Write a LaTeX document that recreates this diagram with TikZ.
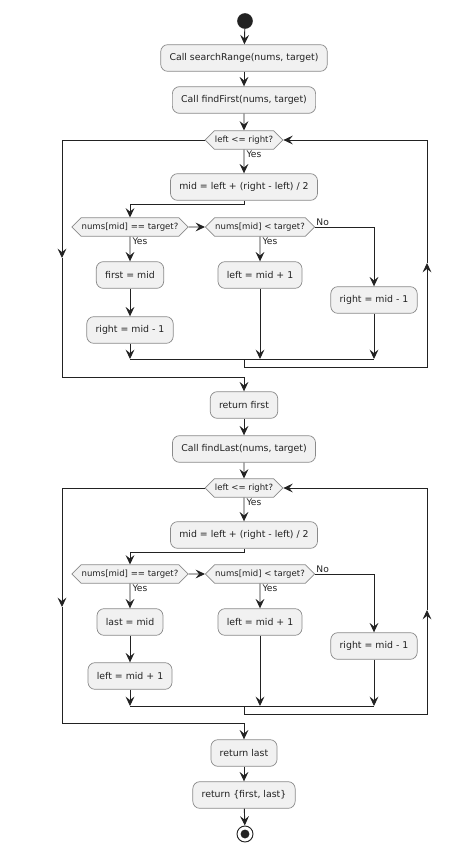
\documentclass[tikz,border=0pt]{standalone}
\usepackage{fontspec}
\setmainfont{DejaVu Sans}
\usepackage{tikz}
\usetikzlibrary{shapes,shapes.symbols,arrows.meta}
\definecolor{boxfill}{HTML}{F1F1F1}
\definecolor{boxline}{HTML}{8A8A8A}
\definecolor{ink}{HTML}{222222}
\tikzstyle{act}=[draw=boxline, fill=boxfill, rounded corners=6pt, line width=0.6pt, minimum height=0.8cm, inner xsep=7.5pt, text=ink, font=\fontsize{8}{9}\selectfont]
\tikzstyle{cond}=[signal, signal to=east and west, draw=boxline, fill=boxfill, line width=0.6pt, minimum height=0.55cm, inner xsep=0.5pt, inner ysep=0pt, text=ink, font=\fontsize{7.3}{8}\selectfont]
\tikzstyle{lbl}=[inner sep=1pt, text=ink, font=\fontsize{7.8}{8}\selectfont]
\tikzstyle{flow}=[draw=ink, line width=0.8pt, -{Stealth[length=8pt,width=7.5pt,inset=3pt]}]
\tikzstyle{wire}=[draw=ink, line width=0.8pt]

\begin{document}
\begin{tikzpicture}[x=0.03cm, y=-0.03cm]
\useasboundingbox (0,0) rectangle (474,867);
\node[circle, fill=ink, minimum size=0.47cm, inner sep=0pt] (start) at (245,21) {};
\node[act] (a1) at (244,58) {Call searchRange(nums, target)};
\node[act] (a2) at (244,100) {Call findFirst(nums, target)};
\node[cond] (d1) at (244,140) {left <= right?};
\node[act] (m1) at (244,187) {mid = left + (right - left) / 2};
\node[cond] (e1) at (130,227) {nums[mid] == target?};
\node[cond] (l1) at (260,227) {nums[mid] < target?};
\node[act] (f1) at (130,275) {first = mid};
\node[act] (g1) at (260,275) {left = mid + 1};
\node[act] (h1) at (374,300) {right = mid - 1};
\node[act] (k1) at (130,330) {right = mid - 1};
\node[lbl, anchor=north west] (yes1) at ([xshift=1pt]d1.south) {Yes};
\node[lbl, anchor=north west] (yes2) at ([xshift=1pt]e1.south) {Yes};
\node[lbl, anchor=north west] (yes3) at ([xshift=1pt]l1.south) {Yes};
\node[lbl, anchor=south west] (no1) at (l1.east) {No};
\node[act] (r1) at (244,405) {return first};
\node[act] (a3) at (244,449) {Call findLast(nums, target)};
\node[cond] (d2) at (244,488) {left <= right?};
\node[act] (m2) at (244,535) {mid = left + (right - left) / 2};
\node[cond] (e2) at (130,574) {nums[mid] == target?};
\node[cond] (l2) at (260,574) {nums[mid] < target?};
\node[act] (f2) at (130,622) {last = mid};
\node[act] (g2) at (260,622) {left = mid + 1};
\node[act] (h2) at (374,646) {right = mid - 1};
\node[act] (k2) at (130,676) {left = mid + 1};
\node[lbl, anchor=north west] (yes4) at ([xshift=1pt]d2.south) {Yes};
\node[lbl, anchor=north west] (yes5) at ([xshift=1pt]e2.south) {Yes};
\node[lbl, anchor=north west] (yes6) at ([xshift=1pt]l2.south) {Yes};
\node[lbl, anchor=south west] (no2) at (l2.east) {No};
\node[act] (r2) at (244,753) {return last};
\node[act] (r3) at (244,795) {return \{first, last\}};
\node[circle, draw=ink, fill=white, line width=0.8pt, minimum size=0.48cm, inner sep=0pt,
  path picture={\fill[ink] (path picture bounding box.center) circle (3.8pt);}] (stop) at (245,834) {};

\coordinate (s1) at (244,204);
\coordinate (j1a) at (130,359);
\coordinate (j1b) at (260,359);
\coordinate (j1c) at (374,359);
\coordinate (j1m) at (244,359);
\coordinate (j1n) at (244,367);
\coordinate (up1) at (427,263);
\coordinate (dn1) at (62,258);
\coordinate (b1) at (244,377);
\coordinate (s2) at (244,552);
\coordinate (j2a) at (130,706);
\coordinate (j2b) at (260,706);
\coordinate (j2c) at (374,706);
\coordinate (j2m) at (244,706);
\coordinate (j2n) at (244,714);
\coordinate (up2) at (427,610);
\coordinate (dn2) at (62,607);
\coordinate (b2) at (244,723);

\draw[flow] (start) -- (a1);
\draw[flow] (a1) -- (a2);
\draw[flow] (a2) -- (d1);
\draw[flow] (d1) -- (m1);
\draw[flow] (m1) -- (s1) -| (e1);
\draw[flow] (e1) -- (l1);
\draw[flow] (e1) -- (f1);
\draw[flow] (f1) -- (k1);
\draw[flow] (l1) -- (g1);
\draw[flow] (l1.east) -| (h1);
\draw[flow] (k1) -- (j1a);
\draw[flow] (g1) -- (j1b);
\draw[flow] (h1) -- (j1c);
\draw[wire] (j1a) -- (j1c);
\draw[flow] (j1m) -- (j1n) -| (up1);
\draw[flow] (up1) |- (d1.east);
\draw[flow] (d1.west) -| (dn1);
\draw[flow] (dn1) |- (b1) -- (r1);

\draw[flow] (r1) -- (a3);
\draw[flow] (a3) -- (d2);
\draw[flow] (d2) -- (m2);
\draw[flow] (m2) -- (s2) -| (e2);
\draw[flow] (e2) -- (l2);
\draw[flow] (e2) -- (f2);
\draw[flow] (f2) -- (k2);
\draw[flow] (l2) -- (g2);
\draw[flow] (l2.east) -| (h2);
\draw[flow] (k2) -- (j2a);
\draw[flow] (g2) -- (j2b);
\draw[flow] (h2) -- (j2c);
\draw[wire] (j2a) -- (j2c);
\draw[flow] (j2m) -- (j2n) -| (up2);
\draw[flow] (up2) |- (d2.east);
\draw[flow] (d2.west) -| (dn2);
\draw[flow] (dn2) |- (b2) -- (r2);
\draw[flow] (r2) -- (r3);
\draw[flow] (r3) -- (stop);
\end{tikzpicture}
\end{document}
